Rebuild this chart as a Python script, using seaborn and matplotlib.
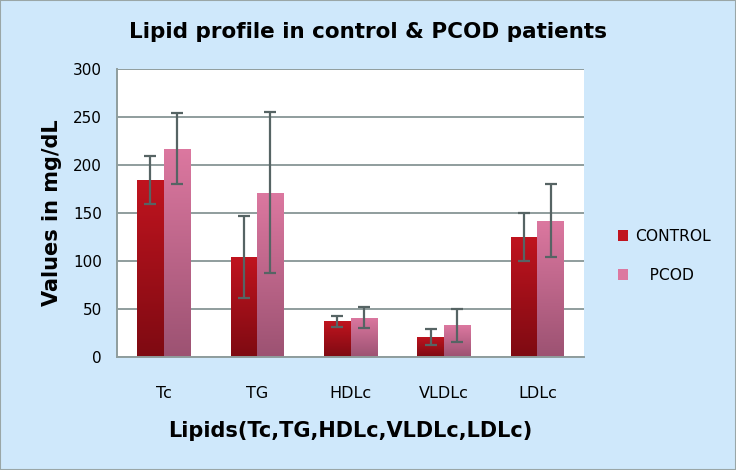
import numpy as np
import pandas as pd
import matplotlib
matplotlib.use("Agg")
import matplotlib.pyplot as plt
import seaborn as sns
from matplotlib.colors import LinearSegmentedColormap
from matplotlib.patches import Patch, Rectangle

lipids = ["Tc", "TG", "HDLc", "VLDLc", "LDLc"]
control_mean = [184, 104, 37, 21, 125]
control_sd = [25, 43, 6, 8, 25]
pcod_mean = [217, 171, 41, 33, 142]
pcod_sd = [37, 84, 11, 17, 38]

groups = ["CONTROL", "PCOD"]
df = pd.DataFrame({
    "Lipid": lipids * 2,
    "Group": ["CONTROL"] * 5 + ["PCOD"] * 5,
    "Value": control_mean + pcod_mean,
})
sds = {"CONTROL": control_sd, "PCOD": pcod_sd}

bg = "#cfe8fb"
grid_c = "#8f9d9d"
top_cols = {"CONTROL": "#c0141f", "PCOD": "#dc78a0"}
bot_cols = {"CONTROL": "#7e0a12", "PCOD": "#9c5272"}

sns.set_style("white")
plt.rcParams["font.family"] = ["DejaVu Sans"]
plt.rcParams["text.color"] = "black"
plt.rcParams["axes.labelcolor"] = "black"
plt.rcParams["xtick.labelcolor"] = "black"
plt.rcParams["ytick.labelcolor"] = "black"

fig = plt.figure(figsize=(7.36, 4.70), dpi=100, facecolor=bg)
ax = fig.add_axes([0.159, 0.2404, 0.6345, 0.613])
ax.set_facecolor("white")

sns.barplot(data=df, x="Lipid", y="Value", hue="Group", order=lipids,
            hue_order=groups, palette=top_cols, width=0.57, errorbar=None,
            legend=False, ax=ax, linewidth=0, saturation=1)

# gradient fill and error bars
for cont, g in zip(ax.containers, groups):
    cmap = LinearSegmentedColormap.from_list(g, [bot_cols[g], top_cols[g]])
    grad = np.linspace(0, 1, 256).reshape(-1, 1)
    xs = []
    for p in cont.patches:
        x0, w, h = p.get_x(), p.get_width(), p.get_height()
        im = ax.imshow(grad, extent=[x0, x0 + w, 0, h], origin="lower",
                       aspect="auto", cmap=cmap, zorder=2)
        im.set_clip_path(p)
        xs.append(x0 + w / 2)
    eb = ax.errorbar(xs, cont.datavalues, yerr=sds[g], fmt="none",
                     ecolor="#566464", elinewidth=1.6, capsize=4.5,
                     capthick=1.6, zorder=4)
    for cl in eb[1]:
        cl.set_color("#151515")
ax.set_xlim(-0.5, 4.5)
ax.set_ylim(0, 300)

ax.set_yticks(np.arange(0, 301, 50))
ax.yaxis.grid(True, color=grid_c, linewidth=1.4)
ax.set_axisbelow(True)
for s in ["top", "right"]:
    ax.spines[s].set_visible(False)
for s in ["left", "bottom"]:
    ax.spines[s].set_color(grid_c)
    ax.spines[s].set_linewidth(1.4)

ax.tick_params(axis="y", length=5, width=1.2, color=grid_c, labelsize=11, pad=6)
ax.set_xticks(np.arange(-0.5, 5, 1), minor=True)
ax.tick_params(axis="x", which="minor", length=5, width=1.2, color=grid_c)
ax.tick_params(axis="x", which="major", length=0, labelsize=11.5, pad=21)

ax.set_xlabel("Lipids(Tc,TG,HDLc,VLDLc,LDLc)", fontsize=15, fontweight="bold",
              labelpad=14)
ax.set_ylabel("Values in mg/dL", fontsize=15, fontweight="bold", labelpad=8)
fig.text(0.5, 0.932, "Lipid profile in control & PCOD patients", ha="center",
         va="center", fontsize=15.5, fontweight="bold")

handles = [Patch(facecolor=top_cols[g], edgecolor="none") for g in groups]
fig.legend(handles, ["CONTROL", "   PCOD"], loc="center left",
           bbox_to_anchor=(0.82, 0.455), frameon=False, fontsize=11.2,
           handlelength=0.65, handleheight=0.7, handletextpad=0.5,
           labelspacing=1.55)

fig.add_artist(Rectangle((0, 0), 1, 1, transform=fig.transFigure,
                         fill=False, edgecolor="#9aa6a6", linewidth=1.5))

fig.savefig("out.png", dpi=100, facecolor=bg)
